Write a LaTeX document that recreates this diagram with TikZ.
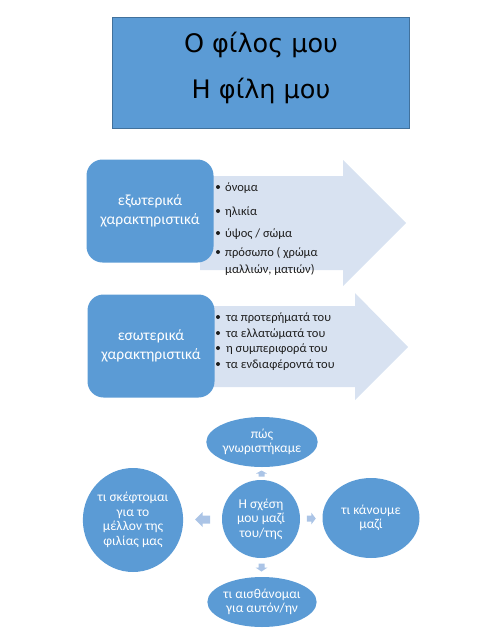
\documentclass[tikz,border=0pt]{standalone}
\usepackage{fontspec}
\setmainfont{Carlito}
\newfontfamily\titlefont{DejaVu Sans}
\usetikzlibrary{calc,shapes.geometric}
\definecolor{mainblue}{RGB}{91,155,213}
\definecolor{darkblue}{RGB}{65,113,156}
\definecolor{lightarrow}{RGB}{216,226,241}
\definecolor{smallarr}{RGB}{171,196,230}
\definecolor{textdark}{RGB}{30,30,30}
\begin{document}
\begin{tikzpicture}[x=1pt,y=-1pt,
  titlebox/.style={fill=mainblue,draw=darkblue,line width=0.8pt,minimum width=297pt,minimum height=111pt},
  catbox/.style={fill=mainblue,rounded corners=16pt,minimum width=127pt,minimum height=103pt,text=white,align=center,font=\fontsize{15.5}{18.5}\selectfont,inner sep=0pt},
  bigarrow/.style={fill=lightarrow},
  bullettext/.style={anchor=base west,inner sep=0pt,text=textdark,font=\fontsize{12.5}{14}\selectfont},
  bulletdot/.style={fill=textdark},
  bubble/.style={ellipse,fill=mainblue,text=white,align=center,inner sep=0pt,font=\fontsize{13.5}{14.5}\selectfont},
  smallarrow/.style={fill=smallarr}
]
\useasboundingbox (0,0) rectangle (495,640);

% title
\node[titlebox] (title) at (260.5,72.5) {};
\node[font=\titlefont\fontsize{25.5}{30}\selectfont,text=black] (t1) at (261,45) {Ο φίλος μου};
\node[font=\titlefont\fontsize{25.5}{30}\selectfont,text=black] (t2) at (261,91) {Η φίλη μου};

% first arrow
\fill[bigarrow] (200,176) -- (343,176) -- (343,160) -- (406,223) -- (343,286) -- (343,270) -- (200,270) -- cycle;
\node[catbox] (ext) at (150,211) {εξωτερικά\\χαρακτηριστικά};
\node[bullettext] (b11) at (225,191) {όνομα};
\node[bullettext] (b12) at (225,215) {ηλικία};
\node[bullettext] (b13) at (225,237) {ύψος / σώμα};
\node[bullettext] (b14) at (225,256) {πρόσωπο ( χρώμα};
\node[bullettext] (b15) at (225,273) {μαλλιών, ματιών)};
\fill[bulletdot] ($(b11.base west)+(-7,-4)$) circle (2pt);
\fill[bulletdot] ($(b12.base west)+(-7,-4)$) circle (2pt);
\fill[bulletdot] ($(b13.base west)+(-7,-4)$) circle (2pt);
\fill[bulletdot] ($(b14.base west)+(-7,-4)$) circle (2pt);

% second arrow
\fill[bigarrow] (200,306) -- (355,306) -- (355,293) -- (408,347) -- (355,400) -- (355,387) -- (200,387) -- cycle;
\node[catbox] (int) at (151,346) {εσωτερικά\\χαρακτηριστικά};
\node[bullettext] (b21) at (226,321) {τα προτερήματά του};
\node[bullettext] (b22) at (226,337) {τα ελλατώματά του};
\node[bullettext] (b23) at (226,352) {η συμπεριφορά του};
\node[bullettext] (b24) at (226,368) {τα ενδιαφέροντά του};
\fill[bulletdot] ($(b21.base west)+(-8,-4)$) circle (2pt);
\fill[bulletdot] ($(b22.base west)+(-8,-4)$) circle (2pt);
\fill[bulletdot] ($(b23.base west)+(-8,-4)$) circle (2pt);
\fill[bulletdot] ($(b24.base west)+(-8,-4)$) circle (2pt);

% radial diagram
\node[bubble,minimum width=78pt,minimum height=78pt] (hub) at (261,519) {Η σχέση\\μου μαζί\\του/της};
\node[bubble,minimum width=110pt,minimum height=50pt] (top) at (262,442) {πώς\\γνωριστήκαμε};
\node[bubble,minimum width=108pt,minimum height=50pt] (bot) at (262,602) {τι αισθάνομαι\\για αυτόν/ην};
\node[bubble,minimum width=100pt,minimum height=104pt] (left) at (133,520) {τι σκέφτομαι\\για το\\μέλλον της\\φιλίας μας};
\node[bubble,minimum width=97pt,minimum height=80pt] (right) at (371,518) {τι κάνουμε\\μαζί};

\coordinate (aU) at ($(hub.north)!0.5!(top.south)$);
\coordinate (aD) at ($(hub.south)!0.5!(bot.north)$);
\coordinate (aL) at ($(hub.west)!0.5!(left.east)$);
\coordinate (aR) at ($(hub.east)!0.5!(right.west)$);

\fill[smallarrow,shift={(aU)}] (-3,3) -- (-3,0) -- (-5.5,0) -- (0,-3) -- (5.5,0) -- (3,0) -- (3,3) -- cycle;
\fill[smallarrow,shift={(aD)}] (-3,-4) -- (-3,0) -- (-6,0) -- (0,4) -- (6,0) -- (3,0) -- (3,-4) -- cycle;
\fill[smallarrow,shift={(aL)}] (7.5,-4) -- (0,-4) -- (0,-7.5) -- (-7.5,0) -- (0,7.5) -- (0,4) -- (7.5,4) -- cycle;
\fill[smallarrow,shift={(aR)}] (-4.5,-3) -- (0,-3) -- (0,-6) -- (4.5,0) -- (0,6) -- (0,3) -- (-4.5,3) -- cycle;
\end{tikzpicture}
\end{document}
